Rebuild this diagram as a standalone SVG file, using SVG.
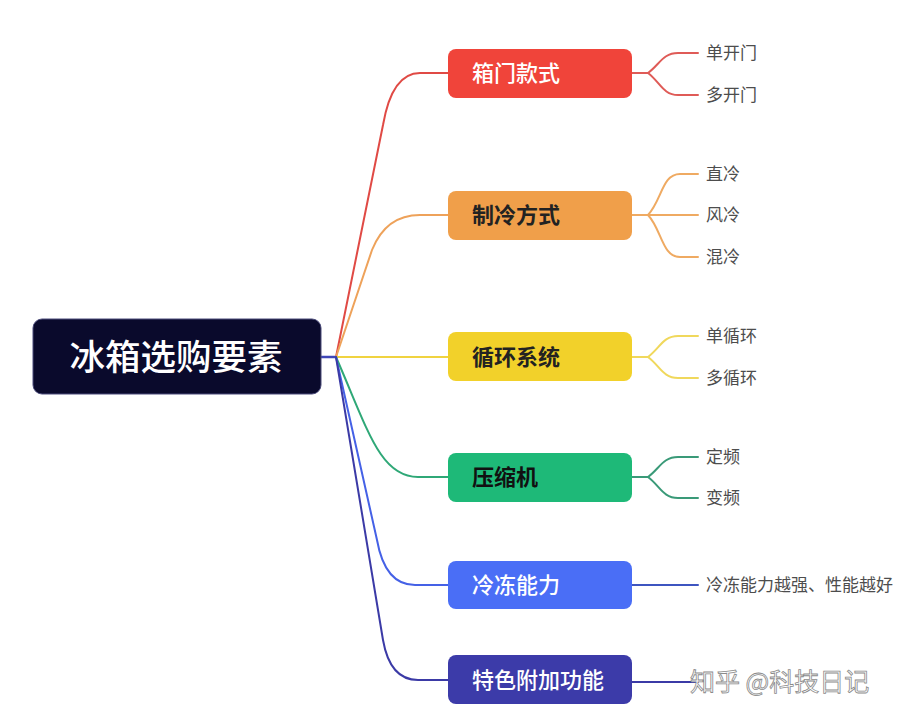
<svg xmlns="http://www.w3.org/2000/svg" width="908" height="720" viewBox="0 0 908 720">
<style>
text{font-family:"Noto Sans CJK SC","Noto Sans",sans-serif}
.br{font-size:22px;font-weight:600}
.bw{font-size:22px;font-weight:500}
.lf{font-size:17px;fill:#4d4d4d}
.c{fill:none;stroke-width:2;stroke-linecap:round}
</style>
<rect width="908" height="720" fill="#ffffff"/>
<g id="connectors">
<line x1="321" y1="357" x2="336" y2="357" stroke="#3f46b8" stroke-width="2.5"/>
<path class="c" stroke="#e04a45" d="M336,357 L383,125 Q392,73 420,73 L448,73"/>
<path class="c" stroke="#eea25a" d="M336,357 L372,250 Q386,215 420,215 L448,215"/>
<path class="c" stroke="#f0d340" d="M336,357 L448,357"/>
<path class="c" stroke="#2fa877" d="M336,357 C368,430 380,477 418,477 L448,477"/>
<path class="c" stroke="#4561e6" d="M336,357 L377,540 Q385,585 415,585 L448,585"/>
<path class="c" stroke="#3b3aa6" d="M336,357 L383,640 Q390,680 418,680 L448,680"/>
<g stroke="#df5b57">
<path class="c" d="M632,73 L648,73"/>
<path class="c" d="M648,73 C660,64 663,53 678,53 L698,53"/>
<path class="c" d="M648,73 C660,82 663,95 678,95 L698,95"/>
</g>
<g stroke="#efaa62">
<path class="c" d="M632,215 L698,215"/>
<path class="c" d="M648,215 C662,200 662,174 680,174 L698,174"/>
<path class="c" d="M648,215 C662,230 662,257 680,257 L698,257"/>
</g>
<g stroke="#f0d85c">
<path class="c" d="M632,357 L648,357"/>
<path class="c" d="M648,357 C660,348 663,336 678,336 L698,336"/>
<path class="c" d="M648,357 C660,366 663,378 678,378 L698,378"/>
</g>
<g stroke="#3a9a78">
<path class="c" d="M632,477 L648,477"/>
<path class="c" d="M648,477 C660,468 663,457 678,457 L698,457"/>
<path class="c" d="M648,477 C660,486 663,498 678,498 L698,498"/>
</g>
<path class="c" stroke="#3e55c0" d="M632,585 L698,585"/>
<path class="c" stroke="#3b3aa6" d="M632,682 L698,682"/>
</g>
<g id="root">
<rect x="33" y="319" width="288" height="75" rx="9" fill="#0a0a2c" stroke="#4a4a7a" stroke-width="1"/>
<text x="176" y="370" text-anchor="middle" font-size="35.5" font-weight="500" fill="#ffffff">冰箱选购要素</text>
</g>
<g id="n1">
<rect x="448" y="49" width="184" height="49" rx="8" fill="#f0443a"/>
<text class="bw" x="472" y="81" fill="#ffffff">箱门款式</text>
</g>
<g id="n2">
<rect x="448" y="191" width="184" height="49" rx="8" fill="#f09f4a"/>
<text class="br" x="472" y="223" fill="#222222">制冷方式</text>
</g>
<g id="n3">
<rect x="448" y="332" width="184" height="49" rx="8" fill="#f2d12a"/>
<text class="br" x="472" y="365" fill="#222222">循环系统</text>
</g>
<g id="n4">
<rect x="448" y="453" width="184" height="49" rx="8" fill="#1eb978"/>
<text class="br" x="472" y="485" fill="#111111">压缩机</text>
</g>
<g id="n5">
<rect x="448" y="561" width="184" height="48" rx="8" fill="#4a6ef6"/>
<text class="bw" x="472" y="593" fill="#ffffff">冷冻能力</text>
</g>
<g id="n6">
<rect x="448" y="655" width="184" height="49" rx="8" fill="#3c3ba9"/>
<text class="bw" x="472" y="688" fill="#ffffff">特色附加功能</text>
</g>
<g id="leaves">
<text class="lf" x="706" y="59">单开门</text>
<text class="lf" x="706" y="101">多开门</text>
<text class="lf" x="706" y="180" fill="#574a40">直冷</text>
<text class="lf" x="706" y="221" fill="#574a40">风冷</text>
<text class="lf" x="706" y="263" fill="#574a40">混冷</text>
<text class="lf" x="706" y="342" fill="#55523f">单循环</text>
<text class="lf" x="706" y="384" fill="#55523f">多循环</text>
<text class="lf" x="706" y="463" fill="#3d6656">定频</text>
<text class="lf" x="706" y="504" fill="#3d6656">变频</text>
<text class="lf" x="706" y="591" font-size="17.8" fill="#2b2f58">冷冻能力越强、性能越好</text>
<text x="690" y="691" font-size="25" fill="#ffffff" stroke="#8a8a8a" stroke-width="0.8">知乎 @科技日记</text>
</g>
</svg>
